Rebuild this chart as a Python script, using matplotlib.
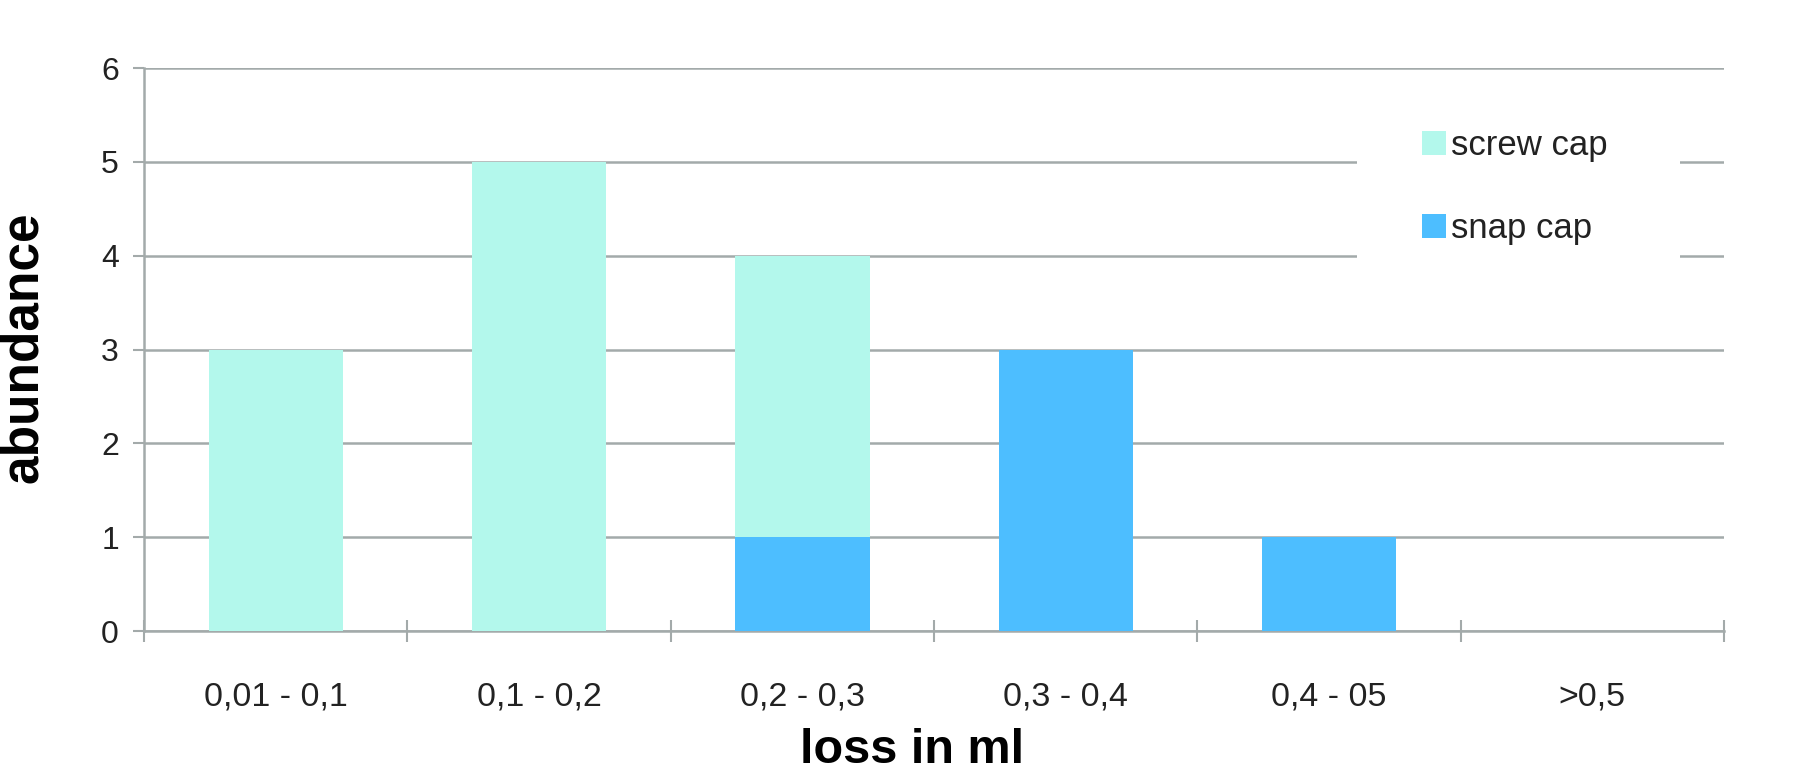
import matplotlib
matplotlib.use("Agg")
import matplotlib.pyplot as plt
from matplotlib.patches import Rectangle
import numpy as np

categories = ["0,01 - 0,1", "0,1 - 0,2", "0,2 - 0,3", "0,3 - 0,4", "0,4 - 05", ">0,5"]
screw_cap = [3, 5, 3, 0, 0, 0]
snap_cap = [0, 0, 1, 3, 1, 0]
y_ticks = [0, 1, 2, 3, 4, 5, 6]

plt.rcParams['font.family'] = ['Liberation Sans', 'DejaVu Sans']

fig = plt.figure(figsize=(18, 7.72), dpi=100)
ax = fig.add_axes([0.08, 0.1826, 0.8778, 0.7293])

grid_c = "#a3aaaa"
screw_c = "#b3f8ec"
snap_c = "#4dbeff"
text_c = "#222222"

x = np.arange(len(categories))
w = 0.51
ax.bar(x, snap_cap, width=w, color=snap_c, label="snap cap", zorder=3)
ax.bar(x, screw_cap, width=w, bottom=snap_cap, color=screw_c, label="screw cap", zorder=3)

ax.set_xlim(-0.5, 5.5)
ax.set_ylim(0, 6)
ax.set_yticks(y_ticks)
ax.yaxis.grid(True, color=grid_c, linewidth=1.8, zorder=1)
ax.set_axisbelow(True)

ax.set_xticks(x)
ax.set_xticklabels(categories)
ax.set_xticks(np.arange(-0.5, 6, 1), minor=True)
ax.tick_params(axis='x', which='major', length=0, pad=36, labelsize=24.5, labelcolor=text_c)
ax.tick_params(axis='x', which='minor', length=16, direction='inout', width=1.5, color=grid_c)
ax.tick_params(axis='y', which='major', length=8, width=1.5, color=grid_c, pad=10, labelsize=23, labelcolor=text_c)

for s in ["top", "right"]:
    ax.spines[s].set_visible(False)
for s in ["left", "bottom"]:
    ax.spines[s].set_color(grid_c)
    ax.spines[s].set_linewidth(1.8)

ax.set_xlabel("loss in ml", fontsize=35, fontweight='bold')
ax.set_ylabel("abundance", fontsize=37, fontweight='bold')
ax.xaxis.set_label_coords(0.486, -0.172)
ax.yaxis.set_label_coords(-0.061, 0.504)

# white background patch behind legend (covers gridlines)
ax.add_patch(Rectangle((0.768, 0.59), 0.204, 0.36, transform=ax.transAxes,
                       facecolor='white', edgecolor='none', zorder=4))

handles, labels = ax.get_legend_handles_labels()
leg = ax.legend(handles[::-1], labels[::-1], loc='upper left', bbox_to_anchor=(0.809, 0.892),
                frameon=False, fontsize=25, handlelength=0.69, handleheight=0.69, handletextpad=0.15,
                labelspacing=1.45, borderpad=0, borderaxespad=0)
leg.set_zorder(5)
for t in leg.get_texts():
    t.set_color(text_c)

fig.savefig("out.png", dpi=100, facecolor='white')
